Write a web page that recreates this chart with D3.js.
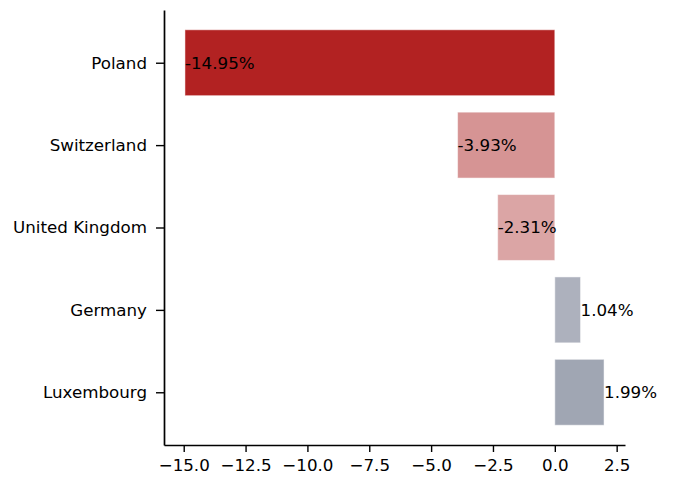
<!DOCTYPE html>
<html>
<head>
<meta charset="utf-8">
<script src="https://cdn.jsdelivr.net/npm/d3@7"></script>
<style>
  body { margin: 0; background: #fff; }
  text { font-family: "DejaVu Sans", sans-serif; }
</style>
</head>
<body>
<svg width="673" height="477"></svg>
<script>
// Data
const countries = ["Poland", "Switzerland", "United Kingdom", "Germany", "Luxembourg"];
const changes = [-14.95, -3.93, -2.31, 1.04, 1.99];
const barColors = ["#b22222", "#d69494", "#dba5a5", "#adb1bd", "#a0a6b3"];
const xTicks = [-15, -12.5, -10, -7.5, -5, -2.5, 0, 2.5];

const svg = d3.select("svg");
const margin = { top: 10, right: 48, bottom: 32, left: 164 };
const width = +svg.attr("width") - margin.left - margin.right;
const height = +svg.attr("height") - margin.top - margin.bottom;

const g = svg.append("g")
  .attr("transform", `translate(${margin.left}, ${margin.top})`);

// Horizontal extent like matplotlib's 5% margins
const lo = d3.min(changes), hi = d3.max(changes);
const pad = (hi - lo) * 0.05;
const xScale = d3.scaleLinear().domain([lo - pad, hi + pad]).range([0, width]);

// Bar centres at 0..n-1, bar height 0.8
const n = countries.length;
const yScale = d3.scaleLinear()
  .domain([-0.4 - 0.24, n - 1 + 0.4 + 0.24])
  .range([0, height]);
const barH = yScale(0.8) - yScale(0);

const data = countries.map((c, i) => ({ name: c, value: changes[i], color: barColors[i], i }));

// Bars
g.selectAll("rect.bar")
  .data(data)
  .enter()
  .append("rect")
  .attr("class", "bar")
  .attr("x", d => xScale(Math.min(0, d.value)))
  .attr("y", d => yScale(d.i - 0.4))
  .attr("width", d => Math.abs(xScale(d.value) - xScale(0)))
  .attr("height", barH)
  .attr("fill", d => d.color)
  .attr("stroke", "#fff")
  .attr("stroke-opacity", 0.5)
  .attr("stroke-width", 1);

// Value labels at bar ends
g.selectAll("text.val")
  .data(data)
  .enter()
  .append("text")
  .attr("class", "val")
  .attr("x", d => xScale(d.value))
  .attr("y", d => yScale(d.i))
  .attr("dy", "0.35em")
  .attr("font-size", 16.7)
  .attr("fill", "#000")
  .text(d => d.value.toFixed(2) + "%");

// Axes
const fmt = d => d3.format(".1f")(d).replace("-", "\u2212");
const xAxis = g.append("g")
  .attr("transform", `translate(0, ${height})`)
  .call(d3.axisBottom(xScale).tickValues(xTicks).tickFormat(fmt).tickSizeInner(7).tickSizeOuter(0).tickPadding(7));

const yAxis = g.append("g")
  .call(d3.axisLeft(yScale).tickValues(d3.range(n)).tickFormat(i => countries[i]).tickSizeInner(8).tickSizeOuter(0).tickPadding(9));

[xAxis, yAxis].forEach(a => {
  a.select(".domain").attr("stroke", "#000").attr("stroke-width", 1.7);
  a.selectAll(".tick line").attr("stroke", "#000").attr("stroke-width", 1.4);
  a.selectAll(".tick text").attr("font-size", 16.7).attr("fill", "#000")
    .attr("font-family", "DejaVu Sans, sans-serif");
});
</script>
</body>
</html>
